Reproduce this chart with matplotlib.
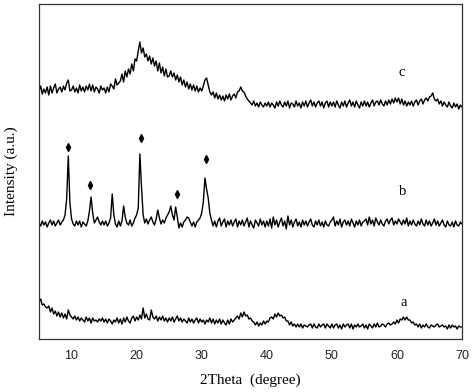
import numpy as np
import matplotlib
matplotlib.use('Agg')
import matplotlib.pyplot as plt

# 2theta grid of the diffractometer: 5..70 deg, 0.25 deg step
two_theta_start, two_theta_step = 5.0, 0.25

# trace c (offset intensity, a.u.)
trace_c = [
    248, 253, 245, 250, 246, 252, 244, 253, 246, 251, 255, 246, 250, 252, 247, 253, 249, 256, 259, 248,
    249, 253, 247, 251, 246, 254, 248, 252, 247, 253, 249, 255, 248, 254, 247, 252, 250, 246, 253, 249,
    251, 246, 252, 247, 255, 253, 250, 260, 254, 256, 258, 265, 257, 268, 262, 270, 265, 275, 268, 280,
    278, 288, 297, 286, 291, 282, 285, 278, 283, 275, 281, 273, 278, 268, 276, 266, 272, 263, 270, 262,
    263, 268, 262, 266, 259, 264, 257, 262, 254, 259, 252, 257, 250, 255, 249, 254, 248, 253, 247, 251,
    248, 253, 259, 261, 254, 247, 244, 247, 241, 246, 240, 244, 239, 243, 238, 244, 240, 245, 239, 243,
    245, 241, 247, 248, 252, 248, 247, 243, 240, 238, 236, 234, 238, 233, 236, 232, 237, 234, 232, 236,
    233, 237, 232, 236, 234, 231, 237, 233, 238, 234, 232, 237, 233, 238, 231, 236, 235, 232, 238, 233,
    236, 231, 237, 233, 238, 232, 236, 239, 233, 237, 232, 236, 238, 233, 237, 231, 236, 238, 232, 237,
    233, 237, 232, 238, 234, 231, 237, 233, 238, 232, 236, 239, 233, 237, 232, 238, 234, 231, 237, 233,
    238, 233, 237, 232, 236, 239, 233, 237, 238, 234, 239, 235, 233, 238, 234, 239, 235, 240, 236, 241,
    237, 241, 235, 240, 234, 238, 233, 237, 234, 238, 233, 237, 239, 234, 238, 240, 235, 239, 241, 238,
    242, 243, 246, 240, 238, 240, 235, 238, 233, 237, 234, 232, 237, 233, 231, 236, 232, 235, 230, 234,
    232,
]

# trace b
trace_b = [
    116, 113, 118, 114, 117, 112, 116, 119, 114, 118, 113, 116, 119, 114, 117, 119, 124, 140, 183, 136,
    120, 115, 113, 118, 114, 118, 112, 117, 115, 113, 118, 128, 142, 126, 116, 119, 122, 117, 114, 118,
    114, 118, 113, 116, 121, 145, 124, 115, 112, 118, 113, 118, 133, 122, 116, 114, 119, 113, 116, 121,
    124, 131, 185, 152, 124, 116, 120, 115, 119, 122, 117, 114, 120, 129, 121, 115, 119, 116, 121, 124,
    127, 133, 124, 119, 132, 122, 111, 116, 112, 117, 119, 122, 121, 117, 113, 117, 112, 117, 119, 121,
    126, 137, 161, 150, 141, 126, 119, 113, 118, 112, 118, 121, 113, 117, 120, 112, 118, 114, 119, 113,
    117, 120, 112, 118, 114, 119, 113, 117, 121, 112, 118, 114, 111, 119, 116, 113, 120, 114, 118, 112,
    118, 113, 120, 111, 122, 114, 119, 112, 117, 121, 113, 118, 110, 123, 114, 119, 112, 117, 120, 113,
    117, 112, 119, 114, 118, 113, 117, 120, 114, 112, 118, 114, 119, 113, 117, 112, 118, 114, 113, 117,
    119, 122, 113, 118, 114, 120, 112, 117, 119, 114, 118, 113, 120, 116, 112, 118, 114, 119, 113, 117,
    118, 120, 114, 122, 115, 119, 113, 121, 117, 114, 119, 115, 113, 118, 120, 115, 119, 121, 114, 118,
    115, 120, 117, 114, 119, 115, 121, 113, 118, 114, 119, 115, 113, 118, 114, 120, 115, 113, 119, 114,
    118, 113, 116, 120, 114, 118, 113, 116, 119, 114, 112, 118, 114, 113, 117, 112, 118, 114, 113, 117,
    115,
]

# trace a
trace_a = [
    37, 40, 34, 35, 32, 31, 33, 27, 31, 25, 28, 23, 27, 22, 26, 21, 25, 20, 29, 24,
    22, 20, 23, 19, 22, 18, 21, 19, 17, 22, 18, 21, 16, 21, 18, 19, 17, 20, 18, 21,
    17, 20, 16, 20, 18, 15, 19, 17, 21, 16, 20, 15, 21, 17, 22, 18, 16, 21, 23, 18,
    22, 19, 24, 20, 31, 21, 25, 20, 19, 29, 22, 20, 23, 18, 22, 19, 23, 18, 21, 17,
    21, 18, 22, 17, 20, 23, 18, 21, 17, 20, 18, 16, 21, 17, 20, 16, 19, 21, 16, 20,
    17, 19, 15, 19, 17, 21, 16, 20, 15, 19, 16, 20, 15, 19, 16, 14, 19, 15, 20, 17,
    19, 21, 23, 20, 26, 22, 27, 23, 24, 20, 21, 18, 17, 14, 17, 13, 16, 14, 18, 15,
    18, 17, 21, 22, 20, 25, 22, 26, 23, 24, 21, 22, 18, 18, 14, 17, 13, 15, 12, 15,
    12, 15, 11, 14, 13, 12, 14, 15, 11, 15, 12, 11, 15, 12, 14, 15, 11, 15, 13, 11,
    15, 11, 14, 15, 11, 14, 10, 15, 12, 14, 15, 11, 15, 10, 14, 12, 15, 12, 13, 15,
    11, 14, 10, 15, 13, 11, 15, 12, 16, 12, 13, 15, 14, 12, 15, 16, 14, 15, 17, 15,
    19, 16, 20, 19, 22, 19, 22, 19, 19, 16, 17, 14, 15, 12, 15, 11, 14, 12, 15, 12,
    11, 14, 13, 12, 14, 15, 12, 13, 14, 12, 13, 10, 14, 11, 14, 12, 13, 10, 13, 12,
    12,
]

# diamond markers over the indexed reflections of b
diamond_x = [9.5, 12.9, 20.6, 26.2, 30.6]
diamond_y = [192, 154, 201, 145, 180]

trace_labels = ['a', 'b', 'c']
label_x = [61.0, 60.9, 60.8]
label_y = [37, 148, 266]

x_ticks = [10, 20, 30, 40, 50, 60, 70]
# -------------------------------------------

fig = plt.figure(figsize=(4.74, 3.92), dpi=100)
ax = fig.add_axes([0.0823, 0.1352, 0.8924, 0.8546])

for trace in (trace_a, trace_b, trace_c):
    x = two_theta_start + two_theta_step * np.arange(len(trace))
    ax.plot(x, trace, color='black', linewidth=1.0)

ax.plot(diamond_x, diamond_y, linestyle='none', marker='d', markersize=4.2, color='black')

for lbl, lx, ly in zip(trace_labels, label_x, label_y):
    ax.text(lx, ly, lbl, fontsize=10.5, family='Liberation Serif', ha='center', va='center')

ax.set_xlim(5, 70)
ax.set_ylim(0, 335)
ax.set_xticks(x_ticks)
ax.set_yticks([])
ax.tick_params(axis='x', length=0, pad=8, labelsize=9)
for t in ax.get_xticklabels():
    t.set_family('Liberation Sans')
    t.set_color('#222222')
for s in ax.spines.values():
    s.set_linewidth(0.9)
    s.set_color('#333333')

ax.set_xlabel('2Theta  (degree)', family='Liberation Serif', fontsize=11, labelpad=8)
ax.set_ylabel('Intensity (a.u.)', family='Liberation Serif', fontsize=11, labelpad=15)

fig.savefig('out.png', dpi=100)
